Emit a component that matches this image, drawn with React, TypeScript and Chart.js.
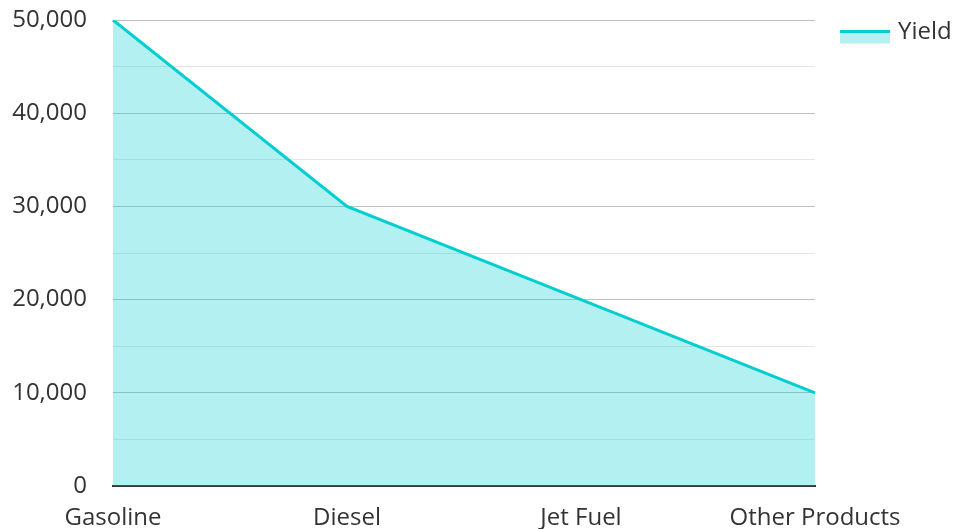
import React, { useEffect, useRef } from "react";
import { Chart, registerables } from "chart.js";

Chart.register(...registerables);

const categories = ["Gasoline", "Diesel", "Jet Fuel", "Other Products"];
const yieldValues = [50000, 30000, 20000, 10000];
const seriesLabel = "Yield";

const FONT = "'Open Sans', 'Noto Sans', sans-serif";

const legendPlugin = {
  id: "customLegend",
  afterDraw(chart: any) {
    const ctx = chart.ctx;
    const x0 = chart.chartArea.right + 25;
    let y = 31.5;
    chart.data.datasets.forEach((ds: any) => {
      ctx.save();
      ctx.fillStyle = ds.backgroundColor;
      ctx.fillRect(x0, y + 1, 50, 11);
      ctx.strokeStyle = ds.borderColor;
      ctx.lineWidth = 3;
      ctx.beginPath();
      ctx.moveTo(x0, y);
      ctx.lineTo(x0 + 50, y);
      ctx.stroke();
      ctx.fillStyle = "#333";
      ctx.font = `24px ${FONT}`;
      ctx.textBaseline = "middle";
      ctx.textAlign = "left";
      ctx.fillText(ds.label, x0 + 58, y + 1);
      ctx.restore();
      y += 30;
    });
  },
};

export default function App() {
  const ref = useRef<HTMLCanvasElement>(null);
  useEffect(() => {
    document.body.style.margin = "0";
    const chart = new Chart(ref.current!, {
      type: "line",
      data: {
        labels: categories,
        datasets: [
          {
            label: seriesLabel,
            data: yieldValues,
            borderColor: "#00CED1",
            backgroundColor: "rgba(0,206,209,0.3)",
            borderWidth: 3,
            fill: "origin",
            pointRadius: 0,
            tension: 0,
          },
        ],
      },
      options: {
        responsive: false,
        animation: false,
        layout: { padding: { top: 20, right: 141, left: 0, bottom: 0 } },
        plugins: { legend: { display: false }, tooltip: { enabled: false } },
        scales: {
          x: {
            offset: false,
            grid: { display: false, drawTicks: false },
            border: { display: true, color: "#333", width: 2 },
            ticks: {
              color: "#333",
              font: { family: FONT, size: 24 },
              padding: 18,
              maxRotation: 0,
              autoSkip: false,
            },
            afterFit(scale: any) {
              scale.height = 43;
              scale.paddingLeft = 0;
              scale.paddingRight = 0;
            },
          },
          y: {
            min: 0,
            max: 50000,
            grid: {
              drawTicks: false,
              color: (c: any) =>
                c.tick && c.tick.value % 10000 === 0 ? "rgba(0,0,0,0.25)" : "rgba(0,0,0,0.1)",
              lineWidth: 1,
            },
            border: { display: false },
            ticks: {
              stepSize: 5000,
              color: "#333",
              font: { family: FONT, size: 24 },
              padding: 26,
              callback: (v: any) => (v % 10000 === 0 ? Number(v).toLocaleString("en-US") : ""),
            },
            afterFit(scale: any) {
              scale.width = 113;
              scale.paddingTop = 0;
              scale.paddingBottom = 0;
            },
          },
        },
      },
      plugins: [legendPlugin],
    });
    return () => chart.destroy();
  }, []);
  return (
    <div style={{ width: 956, height: 529 }}>
      <canvas ref={ref} width={956} height={529} />
    </div>
  );
}
